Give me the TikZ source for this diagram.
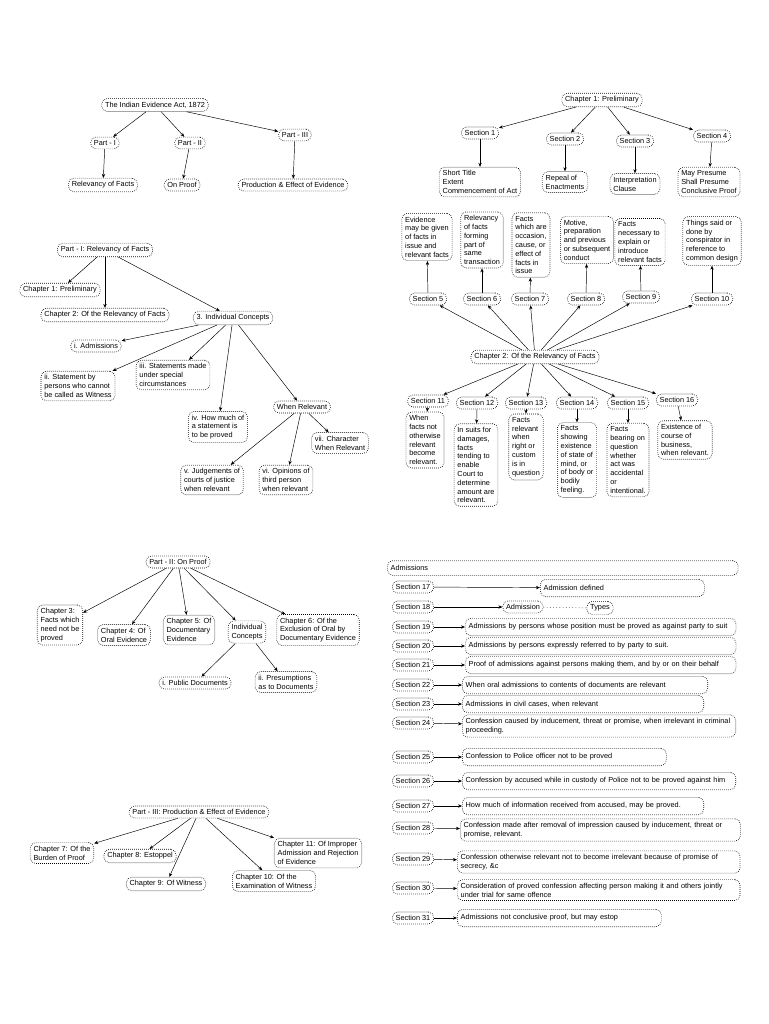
\documentclass[tikz,border=0pt]{standalone}
\usepackage{fontspec}
\setmainfont{Liberation Sans}
\usetikzlibrary{arrows.meta}
\begin{document}
\begin{tikzpicture}[x=0.75pt,y=-0.75pt,
  bx/.style={draw,densely dotted,line width=0.5pt,rounded corners=4pt,inner sep=2.5pt,align=left,font=\fontsize{5.5}{6.6}\selectfont},
  ar/.style={-{Stealth[length=3pt,width=2.5pt]},line width=0.35pt,solid},
  wbox/.style={bx,minimum height=13pt,anchor=west,text width=#1}]
\useasboundingbox (0,0) rectangle (768,1024);
% ---- top left
\node[bx] (act) at (155,105) {The Indian Evidence Act, 1872};
\node[bx] (p1) at (105,143) {Part - I};
\node[bx] (p2) at (190,143) {Part - II};
\node[bx] (p3) at (295,135) {Part - III};
\node[bx] (r1) at (103,185) {Relevancy of Facts};
\node[bx] (r2) at (182,185) {On Proof};
\node[bx] (r3) at (293,185) {Production \& Effect of Evidence};
\foreach \a/\b in {act/p1,act/p2,act/p3,p1/r1,p2/r2,p3/r3} \draw[ar] (\a) -- (\b);
% ---- Part I
\node[bx] (pa) at (105,250) {Part - I: Relevancy of Facts};
\node[bx] (c1) at (60,290) {Chapter 1: Preliminary};
\node[bx] (c2) at (105,315) {Chapter 2: Of the Relevancy of Facts};
\node[bx] (ic) at (233,318) {3. Individual Concepts};
\node[bx] (i1) at (96,346) {i. Admissions};
\node[bx] (i2) at (78,386) {ii. Statement by\\persons who cannot\\be called as Witness};
\node[bx] (i3) at (173,375) {iii. Statements made\\under special\\circumstances};
\node[bx] (i4) at (218,427) {iv. How much of\\a statement is\\to be proved};
\node[bx] (wr) at (302,407) {When Relevant};
\node[bx] (i5) at (212,480) {v. Judgements of\\courts of justice\\when relevant};
\node[bx] (i6) at (286,480) {vi. Opinions of\\third person\\when relevant};
\node[bx] (i7) at (340,443) {vii. Character\\When Relevant};
\foreach \a/\b in {pa/c1,pa/c2,pa/ic,ic/i1,ic/i2,ic/i3,ic/i4,ic/wr,wr/i5,wr/i6,wr/i7} \draw[ar] (\a) -- (\b);
% ---- Chapter 1 right
\node[bx] (ch1) at (602,100) {Chapter 1: Preliminary};
\node[bx] (s1) at (480,133) {Section 1};
\node[bx] (s2) at (565,139) {Section 2};
\node[bx] (s3) at (635,141) {Section 3};
\node[bx] (s4) at (712,136) {Section 4};
\node[bx] (t1) at (480,182) {Short Title\\Extent\\Commencement of Act};
\node[bx] (t2) at (565,182) {Repeal of\\Enactments};
\node[bx] (t3) at (635,184) {Interpretation\\Clause};
\node[bx] (t4) at (709,182) {May Presume\\Shall Presume\\Conclusive Proof};
\foreach \i in {1,2,3,4} {\draw[ar] (ch1) -- (s\i); \draw[ar] (s\i) -- (t\i);}
% ---- Chapter 2 right
\node[bx] (ch2) at (535,357) {Chapter 2: Of the Relevancy of Facts};
\node[bx] (s5) at (428,299) {Section 5};
\node[bx] (s6) at (482,299) {Section 6};
\node[bx] (s7) at (530,299) {Section 7};
\node[bx] (s8) at (586,299) {Section 8};
\node[bx] (s9) at (641,297) {Section 9};
\node[bx] (s10) at (712,299) {Section 10};
\node[bx] (t5) at (427,237) {Evidence\\may be given\\of facts in\\issue and\\relevant facts};
\node[bx] (t6) at (482,240) {Relevancy\\of facts\\forming\\part of\\same\\transaction};
\node[bx] (t7) at (531,245) {Facts\\which are\\occasion,\\cause, or\\effect of\\facts in\\issue};
\node[bx] (t8) at (587,240) {Motive,\\preparation\\and previous\\or subsequent\\conduct};
\node[bx] (t9) at (640,242) {Facts\\necessary to\\explain or\\introduce\\relevant facts};
\node[bx] (t10) at (712,241) {Things said or\\done by\\conspirator in\\reference to\\common design};
\foreach \i in {5,...,10} {\draw[ar] (ch2) -- (s\i); \draw[ar] (s\i) -- (t\i);}
\node[bx] (s11) at (428,401) {Section 11};
\node[bx] (s12) at (477,403) {Section 12};
\node[bx] (s13) at (526,403) {Section 13};
\node[bx] (s14) at (577,403) {Section 14};
\node[bx] (s15) at (628,403) {Section 15};
\node[bx] (s16) at (677,400) {Section 16};
\node[bx] (t11) at (425,440) {When\\facts not\\otherwise\\relevant\\become\\relevant.};
\node[bx] (t12) at (476,465) {In suits for\\damages,\\facts\\tending to\\enable\\Court to\\determine\\amount are\\relevant.};
\node[bx] (t13) at (526,447) {Facts\\relevant\\when\\right or\\custom\\is in\\question};
\node[bx] (t14) at (577,460) {Facts\\showing\\existence\\of state of\\mind, or\\of body or\\bodily\\feeling.};
\node[bx] (t15) at (628,460) {Facts\\bearing on\\question\\whether\\act was\\accidental\\or\\intentional.};
\node[bx] (t16) at (685,440) {Existence of\\course of\\business,\\when relevant.};
\foreach \i in {11,...,16} {\draw[ar] (ch2) -- (s\i); \draw[ar] (s\i) -- (t\i);}
% ---- Admissions list
\node[wbox=258pt,minimum height=11pt] (adm) at (387,568) {Admissions};
\foreach \n/\y in {17/587,18/607,19/627,20/646,21/665,22/685,23/704,24/723,25/757,26/781,27/806,28/828,29/859,30/888,31/918}
  \node[bx] (q\n) at (413,\y) {Section \n};
\node[wbox=118pt] (a17) at (540,588) {Admission defined};
\node[bx] (a18) at (523,607) {Admission};
\node[bx] (ty) at (600,608) {Types};
\draw[dotted,line width=0.4pt] (a18) -- (ty);
\node[wbox=198pt] (a19) at (465,627) {Admissions by persons whose position must be proved as against party to suit};
\node[wbox=198pt] (a20) at (465,646) {Admissions by persons expressly referred to by party to suit.};
\node[wbox=198pt] (a21) at (465,665) {Proof of admissions against persons making them, and by or on their behalf};
\node[wbox=179pt] (a22) at (462,685) {When oral admissions to contents of documents are relevant};
\node[wbox=176pt] (a23) at (462,704) {Admissions in civil cases, when relevant};
\node[wbox=200pt] (a24) at (462,726) {Confession caused by inducement, threat or promise, when irrelevant in criminal\\proceeding.};
\node[wbox=148pt] (a25) at (462,757) {Confession to Police officer not to be proved};
\node[wbox=200pt] (a26) at (462,781) {Confession by accused while in custody of Police not to be proved against him};
\node[wbox=176pt] (a27) at (462,806) {How much of information received from accused, may be proved.};
\node[wbox=205pt] (a28) at (460,830) {Confession made after removal of impression caused by inducement, threat or\\promise, relevant.};
\node[wbox=207pt] (a29) at (457,862) {Confession otherwise relevant not to become irrelevant because of promise of\\secrecy, \&c};
\node[wbox=207pt] (a30) at (457,890) {Consideration of proved confession affecting person making it and others jointly\\under trial for same offence};
\node[wbox=148pt] (a31) at (457,918) {Admissions not conclusive proof, but may estop};
\foreach \n in {17,...,31} \draw[ar] (q\n) -- (a\n);
% ---- Part II
\node[bx] (pb) at (178,562) {Part - II: On Proof};
\node[bx] (d3) at (60,625) {Chapter 3:\\Facts which\\need not be\\proved};
\node[bx] (d4) at (124,635) {Chapter 4: Of\\Oral Evidence};
\node[bx] (d5) at (189,630) {Chapter 5: Of\\Documentary\\Evidence};
\node[bx] (dic) at (247,632) {Individual\\Concepts};
\node[bx] (d6) at (318,630) {Chapter 6: Of the\\Exclusion of Oral by\\Documentary Evidence};
\node[bx] (pd1) at (195,683) {i. Public Documents};
\node[bx] (pd2) at (286,682) {ii. Presumptions\\as to Documents};
\foreach \a/\b in {pb/d3,pb/d4,pb/d5,pb/dic,pb/d6,dic/pd1,dic/pd2} \draw[ar] (\a) -- (\b);
% ---- Part III
\node[bx] (pc) at (199,812) {Part - III: Production \& Effect of Evidence};
\node[bx] (e7) at (62,853) {Chapter 7: Of the\\Burden of Proof};
\node[bx] (e8) at (140,856) {Chapter 8: Estoppel};
\node[bx] (e9) at (166,884) {Chapter 9: Of Witness};
\node[bx] (e10) at (274,881) {Chapter 10: Of the\\Examination of Witness};
\node[bx] (e11) at (318,853) {Chapter 11: Of Improper\\Admission and Rejection\\of Evidence};
\foreach \b in {e7,e8,e9,e10,e11} \draw[ar] (pc) -- (\b);
\end{tikzpicture}
\end{document}
